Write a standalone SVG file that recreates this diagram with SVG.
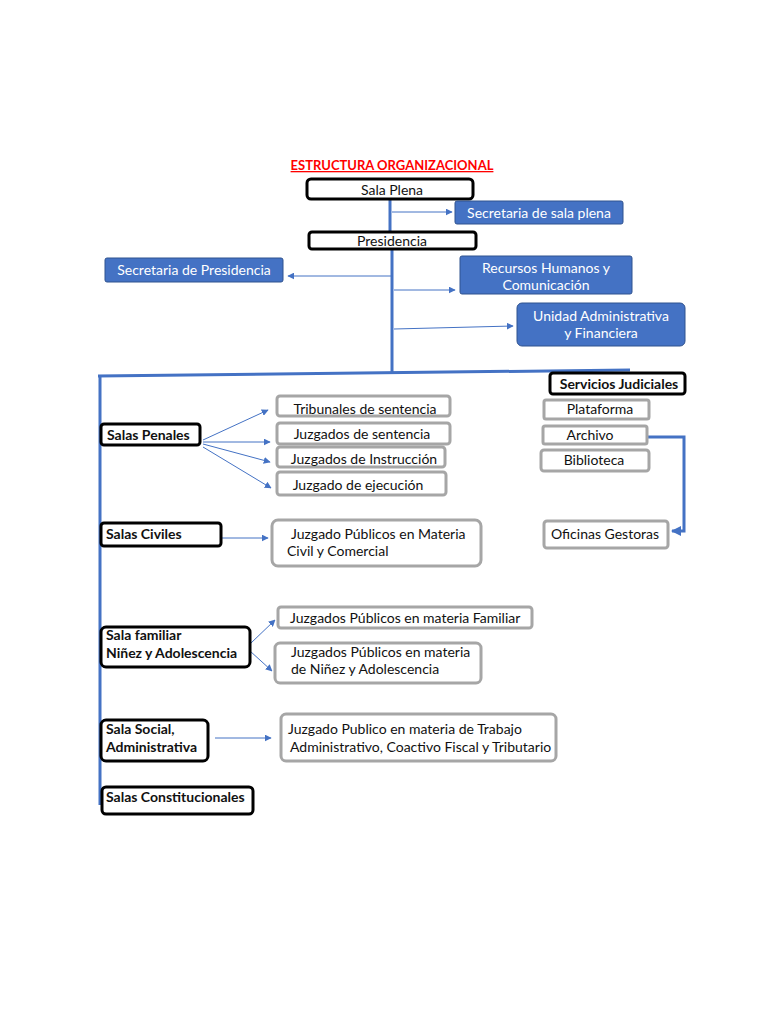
<svg xmlns="http://www.w3.org/2000/svg" width="768" height="1024" viewBox="0 0 768 1024">
<defs>
<style>
text{font-family:Lato,"Open Sans","Liberation Sans",sans-serif;font-size:14px;fill:#111}
.t{font-size:13px;font-weight:bold;fill:#ff0000;text-decoration:underline}
.bk{fill:#fff;stroke:#000;stroke-width:3}
.bl{fill:#4472c4;stroke:#2f528f;stroke-width:1}
.gr{fill:#fff;stroke:#a6a6a6;stroke-width:3}
.w{fill:#fff}
.b{font-weight:bold}
.thick{stroke:#4472c4;stroke-width:3;fill:none}
.thin{stroke:#4472c4;stroke-width:1;fill:none;marker-end:url(#ah)}
</style>
<marker id="ah" viewBox="0 0 10 10" refX="9" refY="5" markerWidth="7" markerHeight="7" orient="auto" markerUnits="userSpaceOnUse">
<path d="M0,0 L10,5 L0,10 z" fill="#4472c4"/>
</marker>
<marker id="ahb" viewBox="0 0 10 10" refX="9" refY="5" markerWidth="10" markerHeight="10" orient="auto" markerUnits="userSpaceOnUse">
<path d="M0,0 L10,5 L0,10 z" fill="#4472c4"/>
</marker>
</defs>
<rect width="768" height="1024" fill="#fff"/>
<text class="t" x="392" y="170" text-anchor="middle">ESTRUCTURA ORGANIZACIONAL</text>

<g id="connectors">
<path class="thick" d="M390,199 V232"/>
<path class="thick" d="M392,249 V373"/>
<path class="thick" d="M98,376 L630,370"/>
<path class="thick" d="M100,375 V805"/>
<path class="thin" d="M392,212 H452"/>
<path class="thin" d="M391,276 H288"/>
<path class="thin" d="M394,290 H455"/>
<path class="thin" d="M394,329 L513,326"/>
<path class="thick" d="M648,437 H684 V531 H672" marker-end="url(#ahb)"/>
<path class="thin" d="M203,440 L268,410"/>
<path class="thin" d="M203,442 L270,442"/>
<path class="thin" d="M203,444 L270,462"/>
<path class="thin" d="M203,447 L271,488"/>
<path class="thin" d="M222,538 H268"/>
<path class="thin" d="M251,643 L275,620"/>
<path class="thin" d="M250,651 L272,671"/>
<path class="thin" d="M215,738 H271"/>
</g>

<g id="sala-plena"><rect class="bk" x="307" y="179" width="166" height="20" rx="4"/><text x="392" y="195" text-anchor="middle">Sala Plena</text></g>
<g id="secretaria-sala-plena"><rect class="bl" x="455" y="201" width="168" height="23" rx="2"/><text class="w" x="539" y="218" text-anchor="middle">Secretaria de sala plena</text></g>
<g id="presidencia"><rect class="bk" x="309" y="232" width="167" height="17" rx="3"/><text x="392" y="246" text-anchor="middle">Presidencia</text></g>
<g id="secretaria-presidencia"><rect class="bl" x="105" y="258" width="178" height="24" rx="2"/><text class="w" x="194" y="275" text-anchor="middle">Secretaria de Presidencia</text></g>
<g id="recursos-humanos"><rect class="bl" x="460" y="256" width="172" height="38" rx="2"/><text class="w" x="546" y="273" text-anchor="middle">Recursos Humanos y</text><text class="w" x="546" y="290" text-anchor="middle">Comunicación</text></g>
<g id="unidad-administrativa"><rect class="bl" x="517" y="303" width="168" height="43" rx="5"/><text class="w" x="601" y="321" text-anchor="middle">Unidad Administrativa</text><text class="w" x="601" y="338" text-anchor="middle">y Financiera</text></g>

<g id="servicios-judiciales"><rect class="bk" x="550" y="373" width="135" height="21" rx="3"/><text class="b" x="619" y="389" text-anchor="middle">Servicios Judiciales</text></g>
<g id="plataforma"><rect class="gr" x="544" y="400" width="105" height="19" rx="2"/><text x="600" y="414" text-anchor="middle">Plataforma</text></g>
<g id="archivo"><rect class="gr" x="543" y="426" width="104" height="18" rx="2"/><text x="590" y="440" text-anchor="middle">Archivo</text></g>
<g id="biblioteca"><rect class="gr" x="541" y="450" width="108" height="21" rx="3"/><text x="594" y="465" text-anchor="middle">Biblioteca</text></g>
<g id="oficinas-gestoras"><rect class="gr" x="544" y="521" width="124" height="27" rx="3"/><text x="605" y="539" text-anchor="middle">Oficinas Gestoras</text></g>

<g id="salas-penales"><rect class="bk" x="101" y="424" width="99" height="21" rx="3"/><text class="b" x="107" y="440">Salas Penales</text></g>
<g id="tribunales-sentencia"><rect class="gr" x="277" y="396" width="173" height="20" rx="3"/><text x="365" y="414" text-anchor="middle">Tribunales de sentencia</text></g>
<g id="juzgados-sentencia"><rect class="gr" x="277" y="423" width="173" height="21" rx="3"/><text x="362" y="439" text-anchor="middle">Juzgados de sentencia</text></g>
<g id="juzgados-instruccion"><rect class="gr" x="277" y="447" width="168" height="20" rx="3"/><text x="364" y="464" text-anchor="middle">Juzgados de Instrucción</text></g>
<g id="juzgado-ejecucion"><rect class="gr" x="277" y="472" width="169" height="23" rx="3"/><text x="358" y="490" text-anchor="middle">Juzgado de ejecución</text></g>

<g id="salas-civiles"><rect class="bk" x="101" y="523" width="120" height="23" rx="3"/><text class="b" x="106" y="539">Salas Civiles</text></g>
<g id="juzgado-civil"><rect class="gr" x="272" y="520" width="209" height="46" rx="6"/><text x="291" y="539">Juzgado Públicos en Materia</text><text x="287" y="556">Civil y Comercial</text></g>

<g id="sala-familiar"><rect class="bk" x="101" y="627" width="149" height="40" rx="5"/><text class="b" x="106" y="640">Sala familiar</text><text class="b" x="106" y="658">Niñez y Adolescencia</text></g>
<g id="juzgados-familiar"><rect class="gr" x="278" y="607" width="254" height="21" rx="3"/><text x="290" y="623">Juzgados Públicos en materia Familiar</text></g>
<g id="juzgados-ninez"><rect class="gr" x="275" y="643" width="206" height="40" rx="5"/><text x="291" y="657">Juzgados Públicos en materia</text><text x="291" y="674">de Niñez y Adolescencia</text></g>

<g id="sala-social"><rect class="bk" x="101" y="720" width="107" height="41" rx="5"/><text class="b" x="106" y="734">Sala Social,</text><text class="b" x="106" y="752">Administrativa</text></g>
<g id="juzgado-trabajo"><rect class="gr" x="281" y="714" width="275" height="47" rx="5"/><text x="288" y="734">Juzgado Publico en materia de Trabajo</text><text x="290" y="752">Administrativo, Coactivo Fiscal y Tributario</text></g>

<g id="salas-constitucionales"><rect class="bk" x="102" y="787" width="151" height="27" rx="4"/><text class="b" x="106" y="802">Salas Constitucionales</text></g>
</svg>
